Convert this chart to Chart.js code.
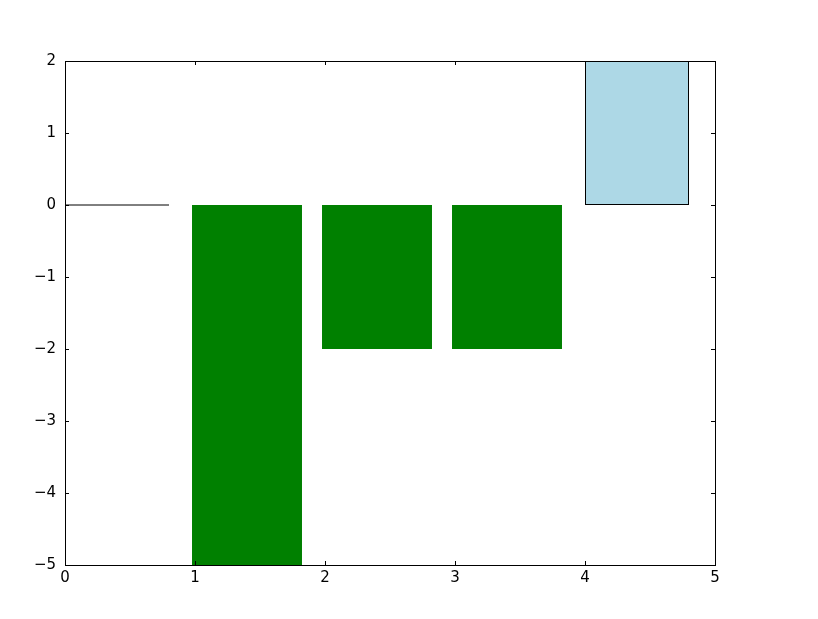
<!DOCTYPE html>
<html>
<head>
<meta charset="utf-8">
<script src="https://cdn.jsdelivr.net/npm/chart.js@4/dist/chart.umd.min.js"></script>
<style>
  body { margin: 0; background: #fff; }
  canvas { display: block; }
</style>
</head>
<body>
<canvas id="bar-chart" width="818" height="619"></canvas>
<script>
// bar data (left edge of each bar, its height, its colour)
const barLefts = [0, 1, 2, 3, 4];
const barValues = [0, -5, -2, -2, 2];
const barColors = ['#ffffff', '#008000', '#008000', '#008000', '#add8e6'];
const barWidth = 0.8;
const xTicks = [0, 1, 2, 3, 4, 5];
const yTicks = [-5, -4, -3, -2, -1, 0, 1, 2];

// green bars have a thick green edge, so they look a bit wider
let greenData = [];
let blueData = [];
for (let i = 1; i < barLefts.length; i++) {
    const pt = { x: barLefts[i] + barWidth / 2, y: barValues[i] };
    if (barColors[i] === '#008000') greenData.push(pt);
    else blueData.push(pt);
}
// the zero-height bar only shows as its edge
const zeroBar = [
    { x: barLefts[0], y: barValues[0] },
    { x: barLefts[0] + barWidth, y: barValues[0] }
];

// frame + inward ticks on all four sides, like matplotlib classic
const frameTicks = {
    id: 'frameTicks',
    afterDraw(chart) {
        const ctx = chart.ctx;
        const a = chart.chartArea;
        const xs = chart.scales.x;
        const ys = chart.scales.y;
        ctx.save();
        ctx.strokeStyle = '#000';
        ctx.lineWidth = 1;
        ctx.beginPath();
        xTicks.forEach(v => {
            const px = Math.round(xs.getPixelForValue(v)) + 0.5;
            ctx.moveTo(px, a.bottom); ctx.lineTo(px, a.bottom - 4);
            ctx.moveTo(px, a.top); ctx.lineTo(px, a.top + 4);
        });
        yTicks.forEach(v => {
            const py = Math.round(ys.getPixelForValue(v)) + 0.5;
            ctx.moveTo(a.left, py); ctx.lineTo(a.left + 4, py);
            ctx.moveTo(a.right, py); ctx.lineTo(a.right - 4, py);
        });
        ctx.stroke();
        ctx.strokeRect(Math.round(a.left) + 0.5, Math.round(a.top) + 0.5,
            Math.round(a.right - a.left), Math.round(a.bottom - a.top));
        ctx.restore();
    }
};

const barCanvas = document.getElementById('bar-chart');
let barChart = new Chart(barCanvas, {
    type: 'bar',
    data: {
        datasets: [{
            data: greenData,
            backgroundColor: '#008000',
            borderColor: '#008000',
            borderWidth: 0,
            borderSkipped: false,
            grouped: false,
            categoryPercentage: 1,
            barPercentage: 0.846
        }, {
            data: blueData,
            backgroundColor: '#add8e6',
            borderColor: '#000',
            borderWidth: 1,
            borderSkipped: false,
            grouped: false,
            categoryPercentage: 1,
            barPercentage: 0.8
        }, {
            type: 'line',
            data: zeroBar,
            borderColor: '#000',
            borderWidth: 1,
            pointRadius: 0,
            fill: false
        }]
    },
    options: {
        responsive: false,
        animation: false,
        devicePixelRatio: 1,
        layout: { padding: { top: 61, right: 103, left: 0, bottom: 0 } },
        scales: {
            x: {
                type: 'linear',
                min: 0,
                max: 5,
                offset: false,
                grid: { display: false, drawTicks: false },
                border: { display: false },
                afterFit: (s) => { s.height = 54; },
                afterBuildTicks: (s) => { s.ticks = xTicks.map(v => ({ value: v })); },
                ticks: {
                    padding: 4,
                    color: '#000',
                    font: { family: 'DejaVu Sans', size: 15 },
                    maxRotation: 0
                }
            },
            y: {
                min: -5,
                max: 2,
                grid: { display: false, drawTicks: false },
                border: { display: false },
                afterFit: (s) => { s.width = 65; },
                afterBuildTicks: (s) => { s.ticks = yTicks.map(v => ({ value: v })); },
                ticks: {
                    padding: 9,
                    color: '#000',
                    font: { family: 'DejaVu Sans', size: 15 },
                    callback: (v) => String(v).replace('-', '\u2212')
                }
            }
        },
        plugins: {
            legend: { display: false },
            tooltip: { enabled: false }
        }
    },
    plugins: [frameTicks]
});
</script>
</body>
</html>
